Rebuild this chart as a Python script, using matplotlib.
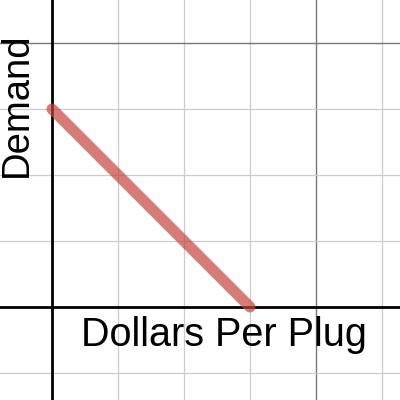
import matplotlib
matplotlib.use("Agg")
import matplotlib.pyplot as plt
import numpy as np

# data
line_x = [0, 3]
line_y = [3, 0]
x_label = "Dollars Per Plug"
y_label = "Demand"

fig = plt.figure(figsize=(4, 4), dpi=100)
ax = fig.add_axes([0, 0, 1, 1])
ax.set_xlim(-52 / 66, 348 / 66)
ax.set_ylim(-93 / 66, 307 / 66)

# grid
for v in np.arange(-1, 6):
    c, lw = ("#777777", 1.0) if v == 4 else ("#cccccc", 0.9)
    ax.axvline(v, color=c, lw=lw, zorder=0)
for v in np.arange(-1, 5):
    c, lw = ("#777777", 1.0) if v == 4 else ("#cccccc", 0.9)
    ax.axhline(v, color=c, lw=lw, zorder=0)
ax.axhline(0, color="black", lw=2, zorder=1)
ax.axvline(0, color="black", lw=2, zorder=1)

ax.plot(line_x, line_y, color="#c74440", alpha=0.7, lw=8,
        solid_capstyle="round", zorder=2)

ax.text(2.6, -0.42, x_label, fontsize=28.5,
        ha="center", va="center", family="Liberation Sans")
ax.text(-0.53, 3.06, y_label, fontsize=27.5, rotation=90,
        ha="center", va="center", family="Liberation Sans")

ax.axis("off")
fig.savefig("out.png", dpi=100)
